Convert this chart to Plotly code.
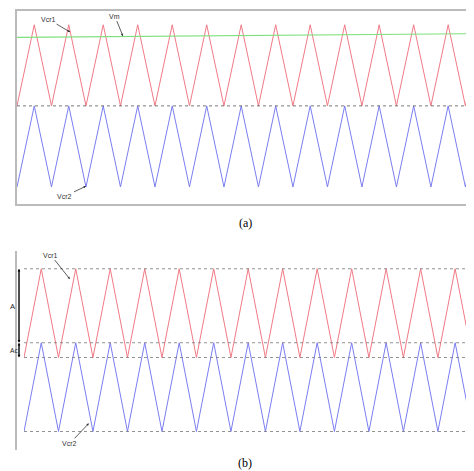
import plotly.graph_objects as go

W, H = 474, 471

# triangle carrier vertices (time in carrier periods)
t_a = [0, 0.5, 1, 1.5, 2, 2.5, 3, 3.5, 4, 4.5, 5, 5.5, 6, 6.5, 7, 7.5, 8, 8.5, 9, 9.5,
       10, 10.5, 11, 11.5, 12, 12.5, 13, 13.5]
vcr1_a = [0, 1, 0, 1, 0, 1, 0, 1, 0, 1, 0, 1, 0, 1, 0, 1, 0, 1, 0, 1, 0, 1, 0, 1, 0, 1, 0, 1]
vcr2_a = [-1, 0, -1, 0, -1, 0, -1, 0, -1, 0, -1, 0, -1, 0, -1, 0, -1, 0, -1, 0,
          -1, 0, -1, 0, -1, 0, -1, 0]
vm_t = [0, 13.22]
vm_y = [0.845, 0.89]

t_b = t_a
vcr1_b = [-0.2, 1, -0.2, 1, -0.2, 1, -0.2, 1, -0.2, 1, -0.2, 1, -0.2, 1, -0.2, 1, -0.2, 1,
          -0.2, 1, -0.2, 1, -0.2, 1, -0.2, 1, -0.2, 1]
vcr2_b = [-1.2, 0, -1.2, 0, -1.2, 0, -1.2, 0, -1.2, 0, -1.2, 0, -1.2, 0, -1.2, 0, -1.2, 0,
          -1.2, 0, -1.2, 0, -1.2, 0, -1.2, 0, -1.2, 0]
levels_b = [1, 0, -0.2, -1.2]

RED, BLUE, GREEN = "#f07a86", "#7b7ef0", "#7ee07e"

fig = go.Figure()
fig.add_trace(go.Scatter(x=t_a, y=vcr1_a, mode="lines", line=dict(color=RED, width=1), xaxis="x", yaxis="y"))
fig.add_trace(go.Scatter(x=t_a, y=vcr2_a, mode="lines", line=dict(color=BLUE, width=1), xaxis="x", yaxis="y"))
fig.add_trace(go.Scatter(x=vm_t, y=vm_y, mode="lines", line=dict(color=GREEN, width=1.2), xaxis="x", yaxis="y"))
fig.add_trace(go.Scatter(x=[0, 13.22], y=[0, 0], mode="lines",
                         line=dict(color="#555", width=0.8, dash="dot"), xaxis="x", yaxis="y"))

fig.add_trace(go.Scatter(x=t_b, y=vcr1_b, mode="lines", line=dict(color=RED, width=1), xaxis="x2", yaxis="y2"))
fig.add_trace(go.Scatter(x=t_b, y=vcr2_b, mode="lines", line=dict(color=BLUE, width=1), xaxis="x2", yaxis="y2"))
for lv in levels_b:
    fig.add_trace(go.Scatter(x=[0, 13.25], y=[lv, lv], mode="lines",
                             line=dict(color="#777", width=0.8, dash="dot"), xaxis="x2", yaxis="y2"))

box = dict(showgrid=False, zeroline=False, showticklabels=False, ticks="",
           showline=True, linecolor="#bbb", linewidth=1.5, mirror=True)
fig.update_layout(
    width=W, height=H, margin=dict(l=0, r=0, t=0, b=0),
    paper_bgcolor="white", plot_bgcolor="white", showlegend=False,
    xaxis=dict(domain=[9 / W, 465 / W], range=[0, 13.22], **box),
    yaxis=dict(domain=[1 - 196 / H, 1 - 3 / H], range=[-1.21, 1.17], **box),
    xaxis2=dict(domain=[16 / W, 473 / W], range=[0, 13.25], **box),
    yaxis2=dict(domain=[1 - 442 / H, 1 - 243 / H], range=[-1.45, 1.24], **box),
)

lab = dict(size=7, color="#333", family="Liberation Sans")
ann = [
    dict(x=1.54, y=0.91, text="Vcr1", xref="x", yref="y", ax=-22, ay=-13, font=lab),
    dict(x=3.07, y=0.86, text="Vm", xref="x", yref="y", ax=-8, ay=-20, font=lab),
    dict(x=2.0, y=-0.99, text="Vcr2", xref="x", yref="y", ax=-21, ay=10, font=lab),
    dict(x=1.33, y=0.86, text="Vcr1", xref="x2", yref="y2", ax=-19, ay=-24, font=lab),
    dict(x=1.88, y=-1.09, text="Vcr2", xref="x2", yref="y2", ax=-19, ay=20, font=lab),
]
for a in ann:
    a.update(showarrow=True, arrowhead=2, arrowsize=0.6, arrowwidth=0.8, arrowcolor="#333")
fig.update_layout(annotations=ann)

# dimension arrows A and Ac outside panel (b)
px_per_unit = 74
for y0, y1 in [(1, 0), (0, -0.2)]:
    d = (y0 - y1) * px_per_unit
    for ya, off in [(y0, d), (y1, -d)]:
        fig.add_annotation(x=11 / W, y=ya, xref="paper", yref="y2", ax=0, ay=off,
                           showarrow=True, arrowhead=2, standoff=0,
                           arrowsize=0.6, arrowwidth=0.9, arrowcolor="black", text="")
fig.add_annotation(x=0, y=0.5, xref="paper", yref="y2", text="A", showarrow=False,
                   xanchor="left", font=dict(size=8, color="#222"))
fig.add_annotation(x=0, y=-0.1, xref="paper", yref="y2", text="Ac", showarrow=False,
                   xanchor="left", font=dict(size=7, color="#222"))

cap = dict(size=12, color="black", family="Liberation Serif")
fig.add_annotation(x=237 / W, y=1 - 215 / H, xref="paper", yref="paper", text="(a)", showarrow=False, font=cap)
fig.add_annotation(x=237 / W, y=1 - 464 / H, xref="paper", yref="paper", text="(b)", showarrow=False, font=cap)

fig.write_html("out.html")
